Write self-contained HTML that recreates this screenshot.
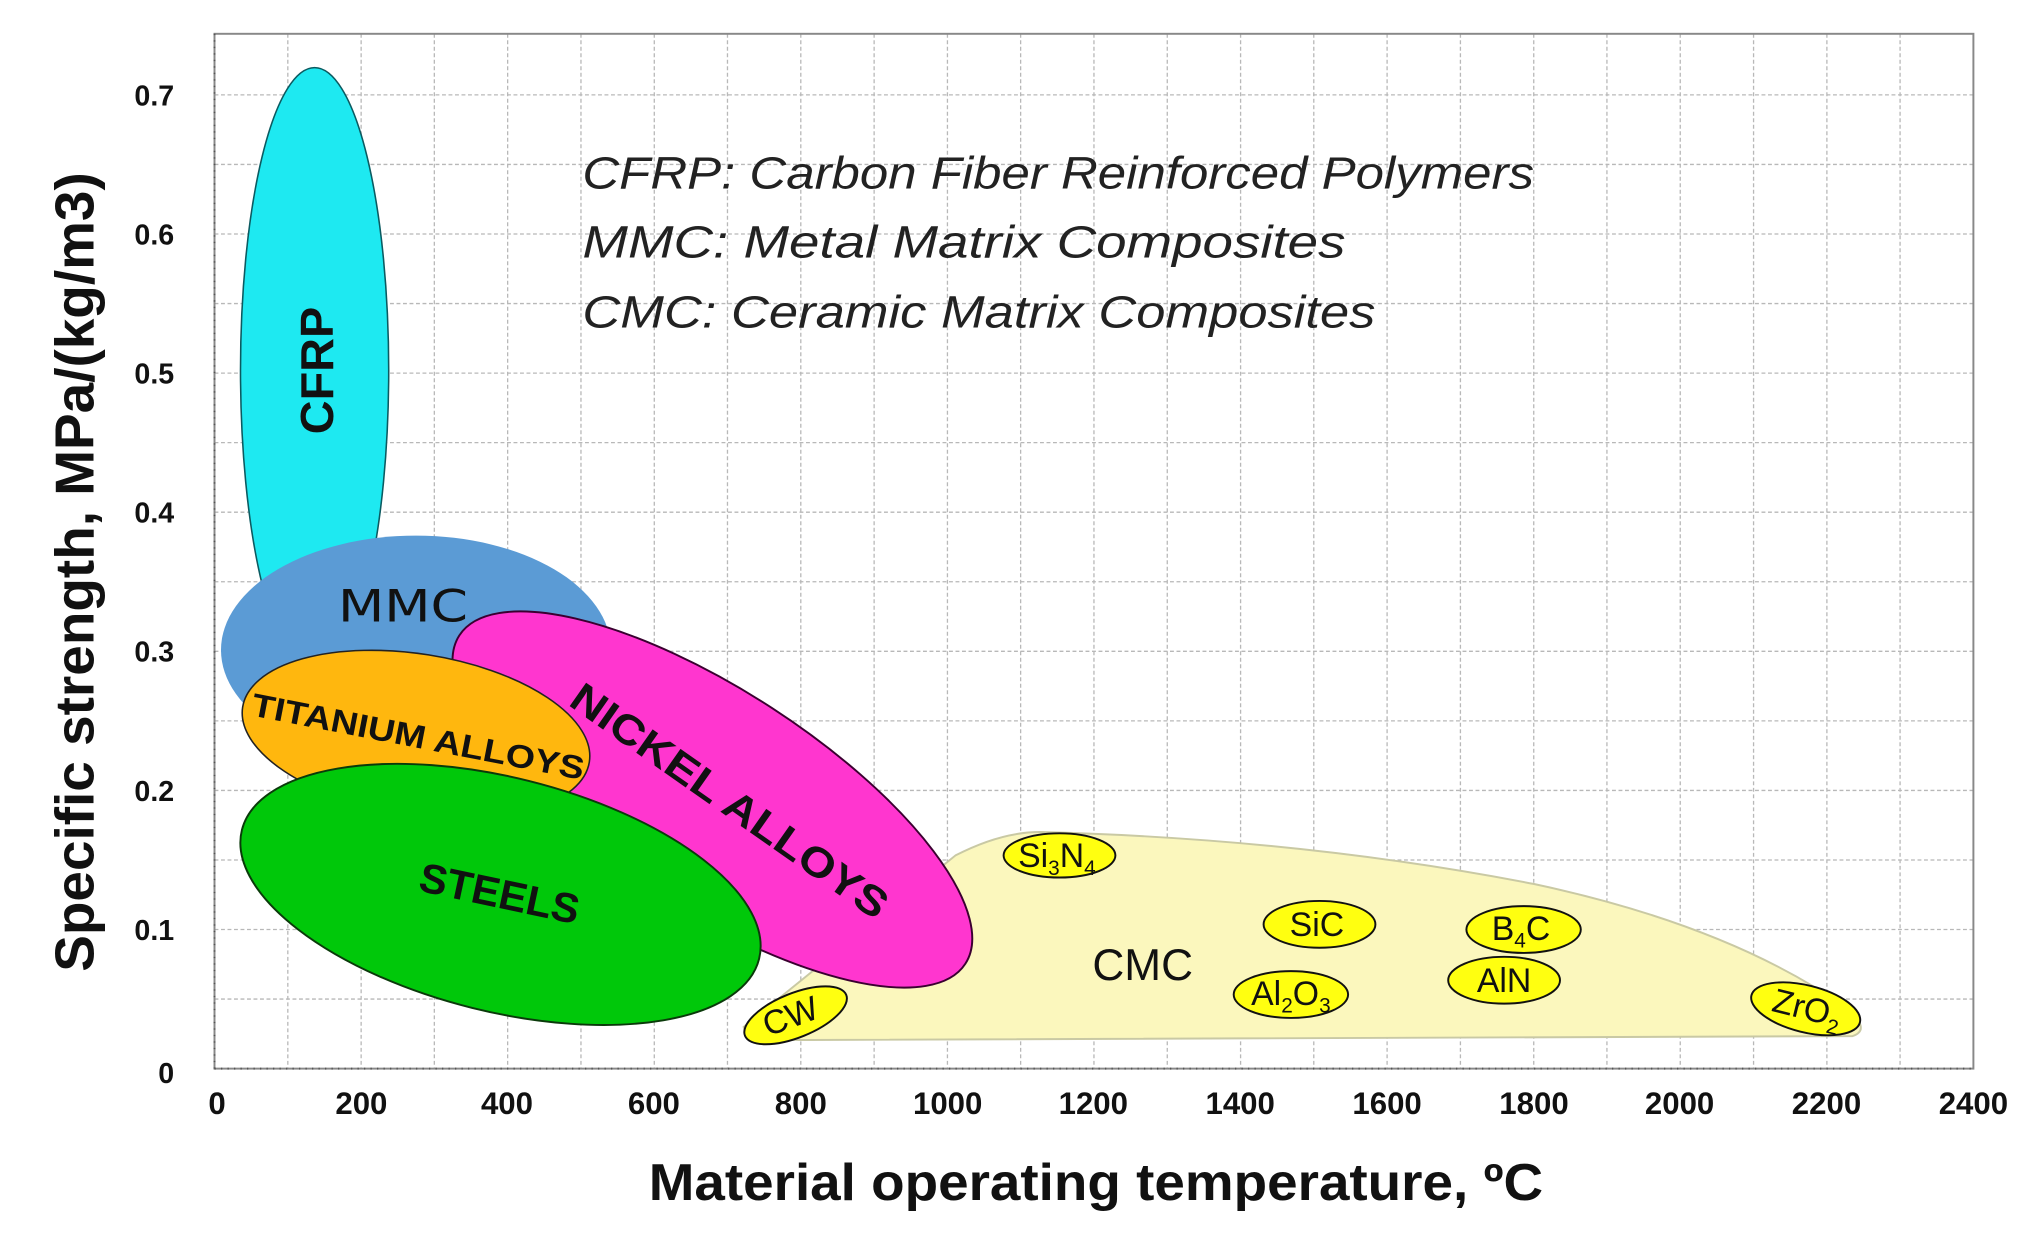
<!DOCTYPE html>
<html><head><meta charset="utf-8"><style>
html,body{margin:0;padding:0;background:#fff;}
svg{display:block;}
</style></head><body>
<svg width="2029" height="1241" viewBox="0 0 1560.77 954.6" preserveAspectRatio="none" xmlns="http://www.w3.org/2000/svg" font-family="'Liberation Sans', sans-serif">
<rect width="1561" height="955" fill="#fff"/>
<g stroke="#b8b8b8" stroke-width="1" stroke-dasharray="3,2">
<line x1="221.4" y1="26" x2="221.4" y2="822"/><line x1="277.8" y1="26" x2="277.8" y2="822"/>
<line x1="334.1" y1="26" x2="334.1" y2="822"/><line x1="390.5" y1="26" x2="390.5" y2="822"/>
<line x1="446.9" y1="26" x2="446.9" y2="822"/><line x1="503.3" y1="26" x2="503.3" y2="822"/>
<line x1="559.6" y1="26" x2="559.6" y2="822"/><line x1="616" y1="26" x2="616" y2="822"/>
<line x1="672.4" y1="26" x2="672.4" y2="822"/><line x1="728.8" y1="26" x2="728.8" y2="822"/>
<line x1="785.1" y1="26" x2="785.1" y2="822"/><line x1="841.5" y1="26" x2="841.5" y2="822"/>
<line x1="897.9" y1="26" x2="897.9" y2="822"/><line x1="954.3" y1="26" x2="954.3" y2="822"/>
<line x1="1010.6" y1="26" x2="1010.6" y2="822"/><line x1="1067" y1="26" x2="1067" y2="822"/>
<line x1="1123.4" y1="26" x2="1123.4" y2="822"/><line x1="1179.8" y1="26" x2="1179.8" y2="822"/>
<line x1="1236.1" y1="26" x2="1236.1" y2="822"/><line x1="1292.5" y1="26" x2="1292.5" y2="822"/>
<line x1="1348.9" y1="26" x2="1348.9" y2="822"/><line x1="1405.3" y1="26" x2="1405.3" y2="822"/>
<line x1="1461.6" y1="26" x2="1461.6" y2="822"/>
<line x1="165" y1="768.5" x2="1518" y2="768.5"/><line x1="165" y1="715" x2="1518" y2="715"/>
<line x1="165" y1="661.5" x2="1518" y2="661.5"/><line x1="165" y1="608" x2="1518" y2="608"/>
<line x1="165" y1="554.5" x2="1518" y2="554.5"/><line x1="165" y1="501" x2="1518" y2="501"/>
<line x1="165" y1="447.5" x2="1518" y2="447.5"/><line x1="165" y1="394" x2="1518" y2="394"/>
<line x1="165" y1="340.5" x2="1518" y2="340.5"/><line x1="165" y1="287" x2="1518" y2="287"/>
<line x1="165" y1="233.5" x2="1518" y2="233.5"/><line x1="165" y1="180" x2="1518" y2="180"/>
<line x1="165" y1="126.5" x2="1518" y2="126.5"/><line x1="165" y1="73" x2="1518" y2="73"/>
</g>
<rect x="165" y="26" width="1353" height="796" fill="none" stroke="#888" stroke-width="1.5"/>
<line x1="165" y1="26" x2="165" y2="822" stroke="#555" stroke-width="1.5" stroke-dasharray="1,4"/>
<line x1="165" y1="822" x2="1518" y2="822" stroke="#555" stroke-width="1.5" stroke-dasharray="1,4"/>
<path d="M572,790 L735,658 Q770,640 800,640 Q1000,645 1180,680 Q1330,712 1420,775 Q1440,792 1425,797 L620,800 Q575,800 572,790 Z" fill="#fbf7bd" stroke="#c9c9a4" stroke-width="1.5"/>
<ellipse cx="242" cy="285" rx="57" ry="233" fill="#1ee9f1" stroke="#0b5a60" stroke-width="1.2"/>
<ellipse cx="320" cy="500" rx="150" ry="88" fill="#5b9bd5"/>
<ellipse cx="548" cy="615" rx="232" ry="84" transform="rotate(33 548 615)" fill="#ff36cf" stroke="#3a0030" stroke-width="1.5"/>
<ellipse cx="320" cy="565" rx="135" ry="62" transform="rotate(9 320 565)" fill="#ffb70e" stroke="#222" stroke-width="1.2"/>
<ellipse cx="385" cy="688" rx="205" ry="90" transform="rotate(14 385 688)" fill="#00c80a" stroke="#0a3a0a" stroke-width="1.5"/>
<g fill="#ffff10" stroke="#111" stroke-width="1.5">
<ellipse cx="815" cy="658" rx="43" ry="17"/>
<ellipse cx="1015" cy="711" rx="43" ry="18"/>
<ellipse cx="1172" cy="715" rx="44" ry="18"/>
<ellipse cx="993" cy="765" rx="44" ry="18"/>
<ellipse cx="1157" cy="754" rx="43" ry="18"/>
<ellipse cx="1389" cy="776" rx="43" ry="18" transform="rotate(14 1389 776)"/>
<ellipse cx="612" cy="781" rx="42" ry="17" transform="rotate(-22 612 781)"/>
</g>
<g fill="#111" font-weight="bold">
<text x="0" y="0" transform="translate(256 285) rotate(-90)" text-anchor="middle" font-size="36">CFRP</text>
<text x="310" y="478" text-anchor="middle" font-size="34" font-weight="normal" font-family="'DejaVu Sans', sans-serif" textLength="100" lengthAdjust="spacingAndGlyphs">MMC</text>
<text x="0" y="0" transform="translate(320 575) rotate(11)" text-anchor="middle" font-size="25" textLength="260" lengthAdjust="spacingAndGlyphs">TITANIUM ALLOYS</text>
<text x="0" y="0" transform="translate(555 625) rotate(35)" text-anchor="middle" font-size="32" textLength="290" lengthAdjust="spacingAndGlyphs">NICKEL ALLOYS</text>
<text x="0" y="0" transform="translate(382 698) rotate(12)" text-anchor="middle" font-size="32" textLength="125" lengthAdjust="spacingAndGlyphs">STEELS</text>
</g>
<g fill="#111" font-size="26" text-anchor="middle">
<text x="879" y="754" font-size="34">CMC</text>
<text x="813" y="667">Si<tspan font-size="16" dy="6">3</tspan><tspan dy="-6">N</tspan><tspan font-size="16" dy="6">4</tspan></text>
<text x="1013" y="720">SiC</text>
<text x="1170" y="723">B<tspan font-size="16" dy="6">4</tspan><tspan dy="-6">C</tspan></text>
<text x="993" y="773">Al<tspan font-size="16" dy="6">2</tspan><tspan dy="-6">O</tspan><tspan font-size="16" dy="6">3</tspan></text>
<text x="1157" y="763">AlN</text>
<text x="0" y="0" transform="translate(1388 784) rotate(14)">ZrO<tspan font-size="16" dy="6">2</tspan></text>
<text x="0" y="0" transform="translate(611 790) rotate(-20)">CW</text>
</g>
<g fill="#222" font-style="italic" font-size="35">
<text x="448" y="145" textLength="732" lengthAdjust="spacingAndGlyphs">CFRP: Carbon Fiber Reinforced Polymers</text>
<text x="448" y="198" textLength="587" lengthAdjust="spacingAndGlyphs">MMC: Metal Matrix Composites</text>
<text x="448" y="252" textLength="610" lengthAdjust="spacingAndGlyphs">CMC: Ceramic Matrix Composites</text>
</g>
<g fill="#111" font-weight="bold" font-size="24" text-anchor="middle">
<text x="167" y="857">0</text><text x="278" y="857">200</text><text x="390" y="857">400</text>
<text x="503" y="857">600</text><text x="616" y="857">800</text><text x="729" y="857">1000</text>
<text x="841" y="857">1200</text><text x="954" y="857">1400</text><text x="1067" y="857">1600</text>
<text x="1180" y="857">1800</text><text x="1292" y="857">2000</text><text x="1405" y="857">2200</text>
<text x="1518" y="857">2400</text>
</g>
<g fill="#111" font-weight="bold" font-size="22" text-anchor="end">
<text x="134" y="833">0</text><text x="134" y="723">0.1</text><text x="134" y="616">0.2</text>
<text x="134" y="509">0.3</text><text x="134" y="402">0.4</text><text x="134" y="295">0.5</text>
<text x="134" y="188">0.6</text><text x="134" y="81">0.7</text>
</g>
<text x="843" y="923" text-anchor="middle" font-weight="bold" font-size="40" fill="#111" textLength="688" lengthAdjust="spacingAndGlyphs">Material operating temperature, ºC</text>
<text x="0" y="0" transform="translate(72 440) rotate(-90)" text-anchor="middle" font-weight="bold" font-size="42" fill="#111" textLength="615" lengthAdjust="spacingAndGlyphs">Specific strength, MPa/(kg/m3)</text>
</svg>
</body></html>
